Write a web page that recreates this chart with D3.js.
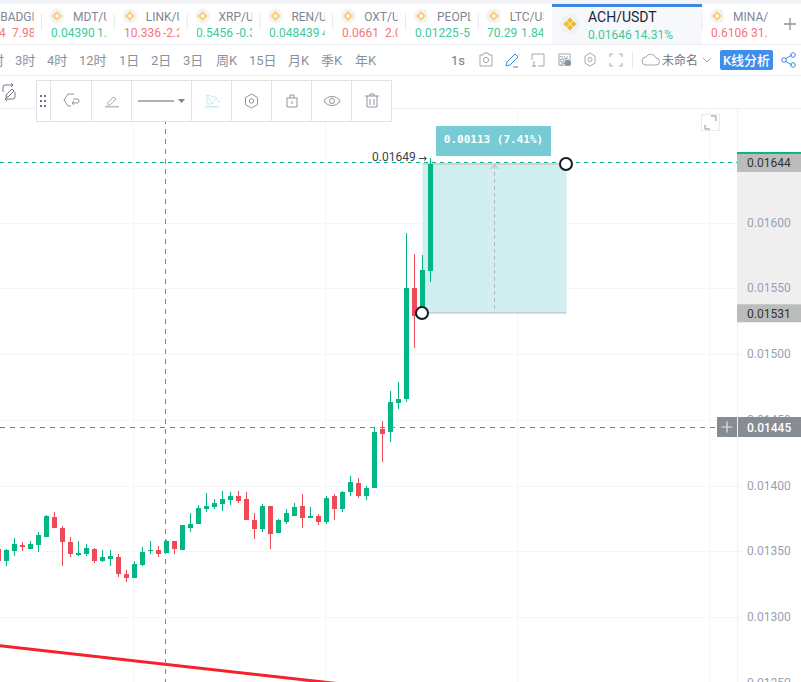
<!DOCTYPE html>
<html>
<head>
<meta charset="utf-8">
<script src="https://cdn.jsdelivr.net/npm/d3@7"></script>
<style>
html, body { margin: 0; padding: 0; background: #fff; overflow: hidden; }
svg { display: block; }
text { font-family: Roboto, "Noto Sans CJK SC", sans-serif; }
</style>
</head>
<body>
<script>
// candles, left to right
const opens = [0.013521,0.013432,0.013508,0.013551,0.013523,0.013554,0.013614,0.013764,0.013681,0.013574,0.013478,0.013485,0.013521,0.013432,0.013447,0.013460,0.013331,0.013303,0.013401,0.013506,0.013513,0.013493,0.013582,0.013516,0.013681,0.013713,0.013825,0.013843,0.013865,0.013894,0.013924,0.013901,0.013741,0.013675,0.013848,0.013645,0.013728,0.013774,0.013848,0.013759,0.013772,0.013728,0.013924,0.013827,0.013957,0.014023,0.013926,0.013987,0.014434,0.014411,0.014631,0.014662,0.015506,0.015316,0.015635];
const highs = [0.013521,0.013521,0.013602,0.013574,0.013582,0.013650,0.013782,0.013802,0.013694,0.013612,0.013582,0.013559,0.013529,0.013513,0.013513,0.013483,0.013361,0.013430,0.013534,0.013582,0.013544,0.013589,0.013582,0.013703,0.013792,0.013853,0.013945,0.013901,0.013962,0.013952,0.013962,0.013952,0.013792,0.013863,0.013848,0.013751,0.013823,0.013871,0.013941,0.013840,0.013785,0.013924,0.013941,0.013962,0.014076,0.014061,0.014000,0.014449,0.014492,0.014722,0.014791,0.015924,0.015764,0.015754,0.016492];
const lows = [0.013432,0.013392,0.013470,0.013508,0.013521,0.013500,0.013610,0.013683,0.013392,0.013462,0.013470,0.013470,0.013412,0.013422,0.013392,0.013310,0.013272,0.013303,0.013392,0.013485,0.013462,0.013488,0.013483,0.013511,0.013652,0.013713,0.013802,0.013823,0.013812,0.013853,0.013871,0.013744,0.013599,0.013652,0.013521,0.013645,0.013713,0.013774,0.013683,0.013759,0.013703,0.013713,0.013744,0.013802,0.013924,0.013909,0.013896,0.013985,0.014183,0.014332,0.014586,0.014641,0.015052,0.015293,0.015554];
const closes = [0.013432,0.013513,0.013559,0.013536,0.013557,0.013627,0.013772,0.013683,0.013576,0.013485,0.013491,0.013529,0.013432,0.013460,0.013468,0.013333,0.013303,0.013407,0.013498,0.013513,0.013485,0.013582,0.013523,0.013703,0.013711,0.013833,0.013848,0.013871,0.013901,0.013924,0.013888,0.013744,0.013675,0.013848,0.013637,0.013741,0.013795,0.013840,0.013759,0.013772,0.013728,0.013909,0.013827,0.013954,0.014030,0.013926,0.013985,0.014411,0.014398,0.014639,0.014662,0.015506,0.015295,0.015643,0.016449];

const priceTicks = [0.0125,0.0130,0.0135,0.0140,0.0145,0.0150,0.0155,0.0160];
const timeGrid = [17,41,65,89];
const trendIdx = [-1,43];
const trendPrice = [0.012795,0.012495];
const crossIdx = 21, crossPrice = 0.014445, crossLabel = '0.01445';
const lastPrice = 0.01646;
const measureIdx = [53,71], measurePrice = [0.016449,0.015316];
const measureLabels = ['0.01644','0.01531'];
const measureText = '0.00113 (7.41%)';
const highLabel = '0.01649';

// tab bar
const tabNames = ['BADGI','MDT/U','LINK/U','XRP/U','REN/U','OXT/U','PEOPL','LTC/US'];
const tabPrices = ['4','0.04390','10.336','0.5456','0.048439','0.0661','0.01225','70.29'];
const tabChanges = ['7.98','1.9','-2.2','-0.3','4','2.0','-5','1.84'];
const tabUp = [false,true,false,true,true,false,true,true];
const priceX = [-1,51,124,196,269,342,415,487];
const changeX = [12,97,163,236,322,385,460,521];
const intervals = ['\u65f6','3\u65f6','4\u65f6','12\u65f6','1\u65e5','2\u65e5','3\u65e5','\u5468K','15\u65e5','\u6708K','\u5b63K','\u5e74K'];
const intervalX = [-9,15,47,79,119,151,183,216,249,288,321,355];

const GREEN = '#02b784', RED = '#ee4b57', UPTXT = '#3ec99a', DOWNTXT = '#f5737d';
const W = 801, H = 682, axisX = 737;

const svg = d3.select('body').append('svg').attr('width', W).attr('height', H);

const x = d3.scaleLinear().domain([0,54]).range([-1.5,430.5]);
const y = d3.scaleLinear().domain([0.016,0.013]).range([223,617.7]);
const px = v => Math.floor(y(v)) + 0.5;

// chrome background
svg.append('rect').attr('width', W).attr('height', 4).attr('fill', '#f1f3f6');
[44.5,75.5,108.5].forEach(v => svg.append('line').attr('x1',0).attr('x2',W).attr('y1',v).attr('y2',v).attr('stroke','#eef0f3'));

// chart clip
svg.append('clipPath').attr('id','plot').append('rect').attr('x',0).attr('y',109).attr('width',axisX).attr('height',H-109);
const plot = svg.append('g').attr('clip-path','url(#plot)');

// grid
plot.selectAll('.hg').data(priceTicks).enter().append('line')
  .attr('x1',0).attr('x2',axisX).attr('y1',d=>px(d)).attr('y2',d=>px(d)).attr('stroke','#f5f6f8');
plot.selectAll('.vg').data(timeGrid).enter().append('line')
  .attr('x1',d=>x(d)-1).attr('x2',d=>x(d)-1).attr('y1',109).attr('y2',H).attr('stroke','#f5f6f8');

// right axis panel
svg.append('rect').attr('x',axisX).attr('y',153).attr('width',W-axisX).attr('height',167).attr('fill','#efefef');
svg.append('line').attr('x1',axisX+.5).attr('x2',axisX+.5).attr('y1',109).attr('y2',H).attr('stroke','#f1f2f4');

const axis = d3.axisRight(y).tickValues(priceTicks).tickFormat(d=>d.toFixed(5)).tickSize(5).tickPadding(5);
const axG = svg.append('g').attr('transform',`translate(${axisX},0)`).call(axis);
axG.select('.domain').remove();
axG.selectAll('.tick').attr('transform',d=>`translate(0,${px(d)})`);
axG.selectAll('line').attr('stroke','#f1f2f4');
axG.selectAll('text').attr('fill','#98a1b0').attr('font-size',12).attr('font-family','Roboto');

// measure box
const mx0 = x(measureIdx[0]), mx1 = x(measureIdx[1]), my0 = y(measurePrice[0]), my1 = y(measurePrice[1]);
plot.append('rect').attr('x',mx0).attr('y',my0).attr('width',mx1-mx0).attr('height',my1-my0).attr('fill','#d1eef0');
[my0,my1].forEach(v => plot.append('line').attr('x1',mx0).attr('x2',mx1).attr('y1',v).attr('y2',v).attr('stroke','#b4b7bb'));
const mid = x((measureIdx[0]+measureIdx[1])/2);
plot.append('line').attr('x1',mid).attr('x2',mid).attr('y1',my0+1).attr('y2',my1).attr('stroke','#b4b6ba').attr('stroke-dasharray','4 3');
plot.append('path').attr('d',`M${mid-4},${my0+5}L${mid},${my0+1}L${mid+4},${my0+5}`).attr('fill','none').attr('stroke','#b4b6ba');

// candles
const idx = d3.range(opens.length);
const candle = plot.selectAll('.candle').data(idx).enter().append('g').attr('shape-rendering','crispEdges');
candle.append('line')
  .attr('x1',i=>x(i)).attr('x2',i=>x(i)).attr('y1',i=>y(highs[i])).attr('y2',i=>y(lows[i]))
  .attr('stroke',i=>closes[i]>=opens[i]?GREEN:RED);
candle.append('rect')
  .attr('x',i=>x(i)-2.5).attr('width',5)
  .attr('y',i=>y(Math.max(opens[i],closes[i])))
  .attr('height',i=>Math.max(1,Math.abs(y(opens[i])-y(closes[i]))))
  .attr('fill',i=>closes[i]>=opens[i]?GREEN:RED);

// trend line
plot.append('path').datum(trendIdx)
  .attr('d',d3.line().x(d=>x(d)).y((d,i)=>y(trendPrice[i])))
  .attr('stroke','#f5222d').attr('stroke-width',3).attr('fill','none');

// last price and crosshair
plot.append('line').attr('x1',0).attr('x2',axisX).attr('y1',px(lastPrice)).attr('y2',px(lastPrice))
  .attr('stroke',GREEN).attr('stroke-dasharray','4 4');
plot.append('line').attr('x1',0).attr('x2',axisX).attr('y1',px(crossPrice)).attr('y2',px(crossPrice))
  .attr('stroke','#7d828a').attr('stroke-dasharray','5 5');
plot.append('line').attr('x1',x(crossIdx)-1).attr('x2',x(crossIdx)-1).attr('y1',109).attr('y2',H)
  .attr('stroke','#7d828a').attr('stroke-dasharray','5 5');

// high label
plot.append('text').attr('x',372).attr('y',161).attr('font-size',12).attr('fill','#3c4250').text(highLabel);
plot.append('path').attr('d','M419,158.5h7M424,156.5l2.5,2l-2.5,2').attr('fill','none').attr('stroke','#3c4250');

// measure label + handles
svg.append('rect').attr('x',436).attr('y',126).attr('width',115).attr('height',30).attr('fill','#76cbd5');
svg.append('text').attr('x',493.5).attr('y',143).attr('text-anchor','middle')
  .attr('font-size',11).attr('font-weight','bold').style('font-family','"DejaVu Sans Mono", monospace').attr('fill','#fff').text(measureText);
svg.selectAll('.handle').data([[mx1,my0],[mx0,my1]]).enter().append('circle')
  .attr('cx',d=>d[0]-.5).attr('cy',d=>d[1]).attr('r',6).attr('fill','#fff').attr('stroke','#151a26').attr('stroke-width',2);

// axis labels
svg.append('rect').attr('x',axisX).attr('y',152).attr('width',W-axisX).attr('height',2).attr('fill',GREEN);
measureLabels.forEach((t,i) => {
  const c = y(measurePrice[i]) - (i ? -0.3 : 1);
  svg.append('rect').attr('x',axisX).attr('y',c-9).attr('width',W-axisX).attr('height',18).attr('fill','#bcbcbc');
  svg.append('text').attr('x',747).attr('y',c+4.5).attr('font-size',12).attr('fill','#333').text(t);
});
const crossY = px(crossPrice) - 0.5;
svg.append('rect').attr('x',738).attr('y',crossY-10).attr('width',W-738).attr('height',20).attr('fill','#868b94');
svg.append('rect').attr('x',717).attr('y',crossY-10).attr('width',20).attr('height',20).attr('fill','#868b94');
svg.append('path').attr('d',`M727,${crossY-5.5}v11M721.5,${crossY}h11`).attr('stroke','#e4e6e9').attr('stroke-width',1.2);
svg.append('text').attr('x',747).attr('y',crossY+4.5).attr('font-size',12).attr('fill','#fff').attr('font-weight',500).text(crossLabel);

// expand icon
svg.append('rect').attr('x',701.5).attr('y',114.5).attr('width',18).attr('height',16).attr('fill','#fff').attr('stroke','#d5d7dc').attr('stroke-dasharray','1 1');
svg.append('path').attr('d','M705,125v4h5M711,116h5v5').attr('fill','none').attr('stroke','#8b919c');

function coin(g, cx, cy, r) {
  g.append('circle').attr('cx',cx).attr('cy',cy).attr('r',r+2.5).attr('fill','#f4f4f4');
  g.append('path').attr('d',`M${cx},${cy-r}L${cx+r},${cy}L${cx},${cy+r}L${cx-r},${cy}Z`).attr('fill','#f8cf7c');
  g.append('path').attr('d',`M${cx},${cy-2}L${cx+2},${cy}L${cx},${cy+2}L${cx-2},${cy}Z`).attr('fill','#fff');
}

// tabs
tabNames.forEach((name,i) => {
  const cell = 51 + (i-1)*72.8;
  const right = cell + 55.5;
  const id = 'tab'+i;
  svg.append('clipPath').attr('id',id).append('rect').attr('x',Math.max(0,cell)).attr('y',4).attr('width',right-Math.max(0,cell)).attr('height',40);
  if (i>0) coin(svg, cell+6, 16, 5);
  const c = svg.append('g').attr('clip-path',`url(#${id})`);
  c.append('text').attr('x',cell+22).attr('y',21).attr('font-size',12).attr('fill','#7f8694').text(name);
  const color = tabUp[i]?UPTXT:DOWNTXT;
  c.append('text').attr('x',priceX[i]).attr('y',37).attr('font-size',12).attr('fill',color).text(tabPrices[i]);
  c.append('text').attr('x',changeX[i]).attr('y',37).attr('font-size',12).attr('fill',color).text(tabChanges[i]);
  if (i<7) svg.append('line').attr('x1',41.5+i*72.8).attr('x2',41.5+i*72.8).attr('y1',14).attr('y2',30).attr('stroke','#e6e8ec');
});

// active tab
svg.append('rect').attr('x',552).attr('y',7).attr('width',150).attr('height',37).attr('fill','#f6f8fc');
svg.append('rect').attr('x',552).attr('y',4).attr('width',150).attr('height',3).attr('fill','#3d85e6');
svg.append('circle').attr('cx',570).attr('cy',24).attr('r',10).attr('fill','#f1f2f3');
svg.append('path').attr('d','M570,17.5l3,3l-3,3l-3,-3zM570,24.5l3,3l-3,3l-3,-3zM563.5,24l3,-3l3,3l-3,3zM570.5,24l3,-3l3,3l-3,3z').attr('fill','#f3b92e');
svg.append('text').attr('x',588).attr('y',22).attr('font-size',14).attr('fill','#1e2636').text('ACH/USDT');
svg.append('text').attr('x',588).attr('y',39).attr('font-size',12).attr('fill',UPTXT).text('0.01646');
svg.append('text').attr('x',634).attr('y',39).attr('font-size',12).attr('fill',UPTXT).text('14.31%');

// last tab
coin(svg, 717, 16, 5);
svg.append('line').attr('x1',702).attr('x2',702).attr('y1',14).attr('y2',30).attr('stroke','#e6e8ec');
svg.append('clipPath').attr('id','mina').append('rect').attr('x',705).attr('y',4).attr('width',63).attr('height',40);
const mina = svg.append('g').attr('clip-path','url(#mina)');
mina.append('text').attr('x',733).attr('y',21).attr('font-size',12).attr('fill','#7f8694').text('MINA/');
mina.append('text').attr('x',711).attr('y',37).attr('font-size',12).attr('fill',DOWNTXT).text('0.6106');
mina.append('text').attr('x',751).attr('y',37).attr('font-size',12).attr('fill',DOWNTXT).text('31.8');
svg.append('path').attr('d','M790,18v12M784,24h12').attr('stroke','#8a909c').attr('stroke-width',1.3);

// interval row
svg.selectAll('.iv').data(intervals).enter().append('text')
  .attr('x',(d,i)=>intervalX[i]).attr('y',65).attr('font-size',13).attr('fill','#8a919d').text(d=>d);
svg.append('text').attr('x',451).attr('y',65).attr('font-size',13).attr('fill','#757c88').text('1s');

// toolbar icons on the right
const gray = '#a2a7b0';
const tb = svg.append('g').attr('fill','none').attr('stroke',gray);
tb.append('path').attr('d','M480,55h3l1,-2h4l1,2h3v11h-12z');
tb.append('circle').attr('cx',486).attr('cy',60).attr('r',2.6);
tb.append('path').attr('stroke','#3d8be8').attr('d','M506,66l1,-4l8,-8l3,3l-8,8zM513,67h5');
tb.append('path').attr('d','M532,54h12v12h-6M532,54v6M532,66h4M534,61v6');
svg.append('text').attr('x',559).attr('y',65).attr('font-size',10).attr('fill','#9aa0aa').text('\u5f39');
svg.append('rect').attr('x',559).attr('y',54).attr('width',11).attr('height',11).attr('fill','none').attr('stroke',gray);
svg.append('circle').attr('cx',568).attr('cy',63).attr('r',3).attr('fill','#8a909a');
tb.append('path').attr('d','M590,53l5,3v7l-5,3l-5,-3v-7z');
tb.append('circle').attr('cx',590).attr('cy',59.5).attr('r',2);
tb.append('path').attr('d','M610,57v-3h3M619,54h3v3M622,63v3h-3M613,66h-3v-3');
svg.append('line').attr('x1',632.5).attr('x2',632.5).attr('y1',52).attr('y2',68).attr('stroke','#e6e8ec');
tb.append('path').attr('d','M646,65h10a3.5,3.5 0 0 0 0,-7a5.5,5.5 0 0 0 -10,-1a4,4 0 0 0 0,8z');
svg.append('text').attr('x',662).attr('y',65).attr('font-size',12).attr('fill','#6f7682').text('\u672a\u547d\u540d');
tb.append('path').attr('d','M703,58l4,4l4,-4');
svg.append('rect').attr('x',720).attr('y',50).attr('width',53).attr('height',20).attr('rx',2).attr('fill','#3f8eea');
svg.append('text').attr('x',746.5).attr('y',65).attr('text-anchor','middle').attr('font-size',13).attr('font-weight',500).attr('fill','#fff').text('K\u7ebf\u5206\u6790');
tb.append('path').attr('stroke','#3d8be8').attr('d','M785,59l7,-4M785,61l7,4');
[[784,60],[793,55],[793,65]].forEach(p => tb.append('circle').attr('stroke','#3d8be8').attr('cx',p[0]).attr('cy',p[1]).attr('r',2.3));

// cycle icon left
svg.append('path').attr('d','M3,92v-5a2,2 0 0 1 2,-2h8M11,83l2,2l-2,2M15,92v5a2,2 0 0 1 -2,2h-8M7,101l-2,-2l2,-2M6,95l6,-6l2,2l-6,6h-2z').attr('fill','none').attr('stroke','#707682');

// floating drawing toolbar
const ft = svg.append('g');
ft.append('rect').attr('x',36.5).attr('y',80.5).attr('width',355).attr('height',41).attr('fill','#fff').attr('stroke','#dfe2e6');
[50,91,131,191,231,271,311,351].forEach(v => ft.append('line').attr('x1',v+.5).attr('x2',v+.5).attr('y1',81).attr('y2',121).attr('stroke','#e0e3e7'));
[[41,96],[45,96],[41,101],[45,101],[41,106],[45,106]].forEach(p => ft.append('rect').attr('x',p[0]-1).attr('y',p[1]-1).attr('width',2).attr('height',2).attr('fill','#6c7280'));
const fi = ft.append('g').attr('fill','none').attr('stroke','#8f95a0');
fi.append('path').attr('d','M74,94h-6l-4,6l4,6h3M72,103h5a2,2 0 0 0 0,-4h-4M74,101l-2,2l2,2');
fi.append('path').attr('stroke','#a9adb4').attr('d','M107,104l6,-7l3,2l-6,6h-3');
ft.append('rect').attr('x',105).attr('y',106).attr('width',14).attr('height',1.5).attr('fill','#b9bcc2');
fi.append('line').attr('stroke','#5a6070').attr('x1',138).attr('x2',174).attr('y1',101).attr('y2',101);
ft.append('path').attr('d','M178,99h7l-3.5,4z').attr('fill','#7d838e');
fi.append('path').attr('stroke','#c7ebed').attr('d','M207,95l10,3l-5,6h-5zM207,95l5,9M218,100l1,3');
ft.append('rect').attr('x',205).attr('y',106).attr('width',14).attr('height',1.5).attr('fill','#c7ebed');
fi.append('path').attr('d','M251.5,94l6,3.5v7l-6,3.5l-6,-3.5v-7z');
fi.append('circle').attr('cx',251.5).attr('cy',101).attr('r',2.2);
fi.append('path').attr('d','M287,98h10v9h-10zM290,98v-3h4v3M292,101v3');
fi.append('path').attr('d','M324,101c3,-6 13,-6 16,0c-3,6 -13,6 -16,0z');
fi.append('circle').attr('cx',332).attr('cy',101).attr('r',2.5);
fi.append('path').attr('d','M365,96h14M367,96v11h10v-11M370,96v-2h4v2M370,99v6M374,99v6');
</script>
</body>
</html>
